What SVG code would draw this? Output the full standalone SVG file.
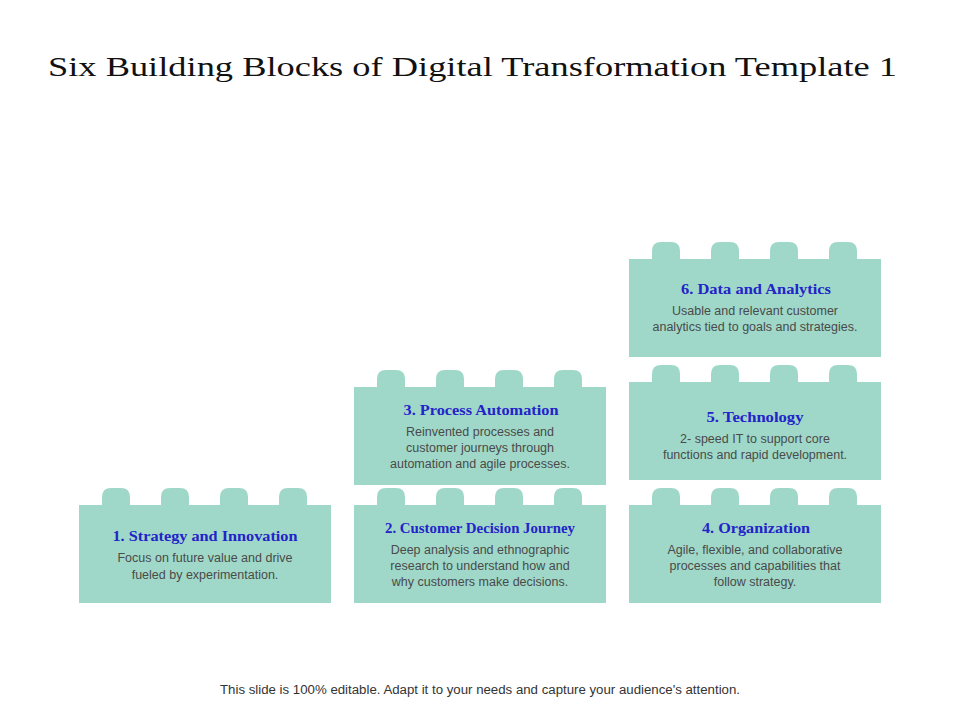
<svg xmlns="http://www.w3.org/2000/svg" xmlns:xlink="http://www.w3.org/1999/xlink" width="960" height="720" viewBox="0 0 960 720">
<style>
.b{fill:#9fd8c8}
.t{font-family:"Liberation Serif",serif;font-weight:bold;font-size:14px;fill:#2323c8;text-anchor:middle}
.d{font-family:"Liberation Sans",sans-serif;font-size:12.5px;fill:#4a4a4a;text-anchor:middle}
</style>
<defs>
<g id="blk">
<path class="b" d="M23,18V9Q23,0 32,0H42Q51,0 51,9V18Z"/>
<path class="b" d="M82,18V9Q82,0 91,0H101Q110,0 110,9V18Z"/>
<path class="b" d="M141,18V9Q141,0 150,0H160Q169,0 169,9V18Z"/>
<path class="b" d="M200,18V9Q200,0 209,0H219Q228,0 228,9V18Z"/>
<rect class="b" x="0" y="17" width="252" height="98"/>
</g>
</defs>
<rect width="960" height="720" fill="#fff"/>
<text x="48" y="76" font-family="Liberation Serif,serif" font-size="27" fill="#111" textLength="849" lengthAdjust="spacingAndGlyphs">Six Building Blocks of Digital Transformation Template 1</text>
<g id="n1"><use xlink:href="#blk" x="79" y="488"/>
<text class="t" x="205" y="541" textLength="185" lengthAdjust="spacingAndGlyphs">1. Strategy and Innovation</text>
<text class="d" x="205" y="562">Focus on future value and drive</text>
<text class="d" x="205" y="579">fueled by experimentation.</text></g>
<g id="n2"><use xlink:href="#blk" x="354" y="488"/>
<text class="t" x="480" y="533" textLength="190" lengthAdjust="spacingAndGlyphs">2. Customer Decision Journey</text>
<text class="d" x="480" y="554">Deep analysis and ethnographic</text>
<text class="d" x="480" y="570">research to understand how and</text>
<text class="d" x="480" y="586">why customers make decisions.</text></g>
<g id="n3"><use xlink:href="#blk" x="354" y="370"/>
<text class="t" x="481" y="415" textLength="155" lengthAdjust="spacingAndGlyphs">3. Process Automation</text>
<text class="d" x="480" y="436">Reinvented processes and</text>
<text class="d" x="480" y="452">customer journeys through</text>
<text class="d" x="480" y="468">automation and agile processes.</text></g>
<g id="n4"><use xlink:href="#blk" x="629" y="488"/>
<text class="t" x="756" y="533" textLength="108" lengthAdjust="spacingAndGlyphs">4. Organization</text>
<text class="d" x="755" y="554">Agile, flexible, and collaborative</text>
<text class="d" x="755" y="570">processes and capabilities that</text>
<text class="d" x="755" y="586">follow strategy.</text></g>
<g id="n5"><use xlink:href="#blk" x="629" y="365"/>
<text class="t" x="755" y="422" textLength="97" lengthAdjust="spacingAndGlyphs">5. Technology</text>
<text class="d" x="755" y="443">2- speed  IT to support core</text>
<text class="d" x="755" y="459">functions and rapid development.</text></g>
<g id="n6"><use xlink:href="#blk" x="629" y="242"/>
<text class="t" x="756" y="294" textLength="150" lengthAdjust="spacingAndGlyphs">6. Data and Analytics</text>
<text class="d" x="755" y="315">Usable and relevant customer</text>
<text class="d" x="755" y="331">analytics tied to goals and strategies.</text></g>
<g id="connectors"/>
<text x="480" y="694" font-family="Liberation Sans,sans-serif" font-size="12.5" fill="#333" text-anchor="middle" textLength="520" lengthAdjust="spacingAndGlyphs">This slide is 100% editable. Adapt it to your needs and capture your audience's attention.</text>
</svg>
